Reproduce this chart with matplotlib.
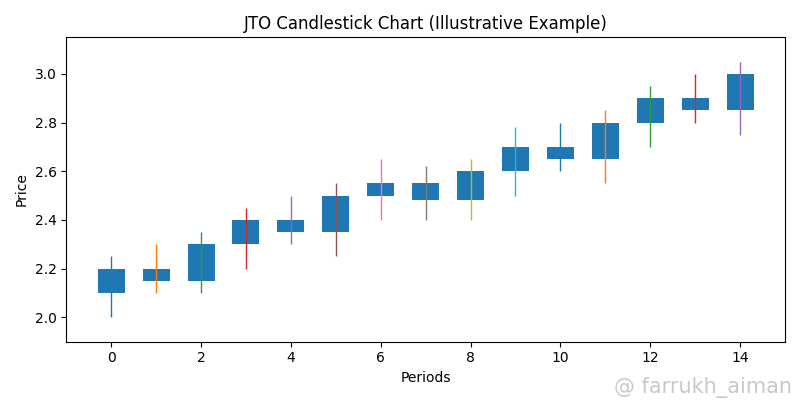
import matplotlib
matplotlib.use("Agg")
import matplotlib.pyplot as plt

periods = list(range(15))
opens = [2.10, 2.15, 2.15, 2.30, 2.35, 2.35, 2.50, 2.48, 2.48, 2.60, 2.65, 2.65, 2.80, 2.85, 2.85]
closes = [2.20, 2.20, 2.30, 2.40, 2.40, 2.50, 2.55, 2.55, 2.60, 2.70, 2.70, 2.80, 2.90, 2.90, 3.00]
lows = [2.00, 2.10, 2.10, 2.20, 2.30, 2.25, 2.40, 2.40, 2.40, 2.50, 2.60, 2.55, 2.70, 2.80, 2.75]
highs = [2.25, 2.30, 2.35, 2.45, 2.50, 2.55, 2.65, 2.62, 2.65, 2.78, 2.80, 2.85, 2.95, 3.00, 3.05]

fig, ax = plt.subplots(figsize=(8, 4), dpi=100)
bottoms = [min(o, c) for o, c in zip(opens, closes)]
heights = [abs(c - o) for o, c in zip(opens, closes)]
ax.bar(periods, heights, bottom=bottoms, width=0.6, color="C0")
for i, (lo, hi) in enumerate(zip(lows, highs)):
    ax.vlines(periods[i], lo, hi, color=f"C{i % 10}", linewidth=1)

ax.set_xlim(-1, 15)
ax.set_ylim(1.9, 3.15)
ax.set_xlabel("Periods")
ax.set_ylabel("Price")
ax.set_title("JTO Candlestick Chart (Illustrative Example)")
fig.tight_layout()
fig.text(0.99, 0.03, "@ farrukh_aiman", ha="right", va="center", fontsize=15, color="#bbbbbb", alpha=0.8)
fig.savefig("out.png", dpi=100)
